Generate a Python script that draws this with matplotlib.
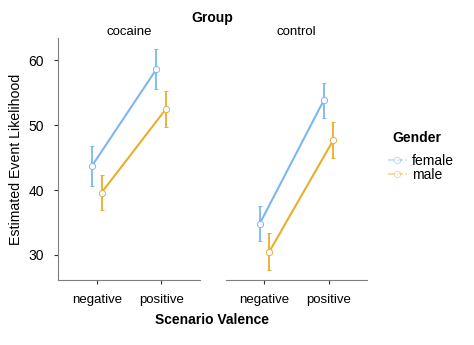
import matplotlib.pyplot as plt
from matplotlib.lines import Line2D
import numpy as np

plt.rcParams['font.family'] = ['Liberation Sans', 'DejaVu Sans']

# dados
grupos = ['cocaine', 'control']
valencia = ['negative', 'positive']
generos = ['female', 'male']
cores = {'female': '#7db7f0', 'male': '#ebae2c'}

media = {
    ('cocaine', 'female'): [43.7, 58.6],
    ('cocaine', 'male'): [39.6, 52.5],
    ('control', 'female'): [34.8, 53.8],
    ('control', 'male'): [30.5, 47.7],
}
erro = {
    ('cocaine', 'female'): [3.1, 3.1],
    ('cocaine', 'male'): [2.75, 2.75],
    ('control', 'female'): [2.7, 2.7],
    ('control', 'male'): [2.85, 2.8],
}

fig = plt.figure(figsize=(4.74, 3.45), dpi=100)
posicoes = [[0.1224, 0.1884, 0.2995, 0.7015], [0.4768, 0.1884, 0.2975, 0.7015]]
desloc = {'female': -0.075, 'male': 0.075}
x = np.arange(1, len(valencia) + 1)

for i, g in enumerate(grupos):
    ax = fig.add_axes(posicoes[i])
    for gen in generos:
        xx = x + desloc[gen]
        ax.errorbar(xx, media[(g, gen)], yerr=erro[(g, gen)], color=cores[gen],
                     lw=1.5, elinewidth=1.3, capsize=1.5, capthick=1.0,
                     marker='o', ms=4.5, mfc='white', mec=cores[gen], mew=0.7,
                     zorder=3)
    ax.set_xlim(0.4, 2.6)
    ax.set_ylim(26.15, 63.4)
    ax.set_xticks(x)
    ax.set_xticklabels(valencia, fontsize=9.5)
    ax.set_title(g, fontsize=9.5, pad=2)
    for s in ['top', 'right']:
        ax.spines[s].set_visible(False)
    ax.spines['bottom'].set_color('#7f7f7f')
    ax.spines['left'].set_color('#7f7f7f')
    ax.tick_params(length=3, width=0.8, color='#333333', labelsize=9.5, pad=7)
    ax.set_facecolor('none')
    if i == 0:
        ax.set_yticks([30, 40, 50, 60])
        ax.tick_params(axis='y', labelsize=10)
        ax.set_ylabel('Estimated Event Likelihood', fontsize=10.2, labelpad=4)
    else:
        ax.spines['left'].set_visible(False)
        ax.set_yticks([])

fig.text(0.448, 0.947, 'Group', ha='center', va='center', fontsize=10, fontweight='bold')
fig.text(0.448, 0.072, 'Scenario Valence', ha='center', va='center', fontsize=10, fontweight='bold')

# legenda
fig.text(0.827, 0.6, 'Gender', ha='left', va='center', fontsize=10, fontweight='bold')
h = [Line2D([], [], color=cores[gen], lw=1.2, ls='--', marker='o', ms=4.5,
            mfc='white', mec=cores[gen], mew=0.7, alpha=0.5) for gen in generos]
leg = fig.legend(h, generos, loc='upper left', bbox_to_anchor=(0.818, 0.555),
                 frameon=False, fontsize=10, handlelength=1.4, handletextpad=0.35,
                 labelspacing=0.0, borderaxespad=0, borderpad=0)

fig.savefig('out.png', dpi=100)
